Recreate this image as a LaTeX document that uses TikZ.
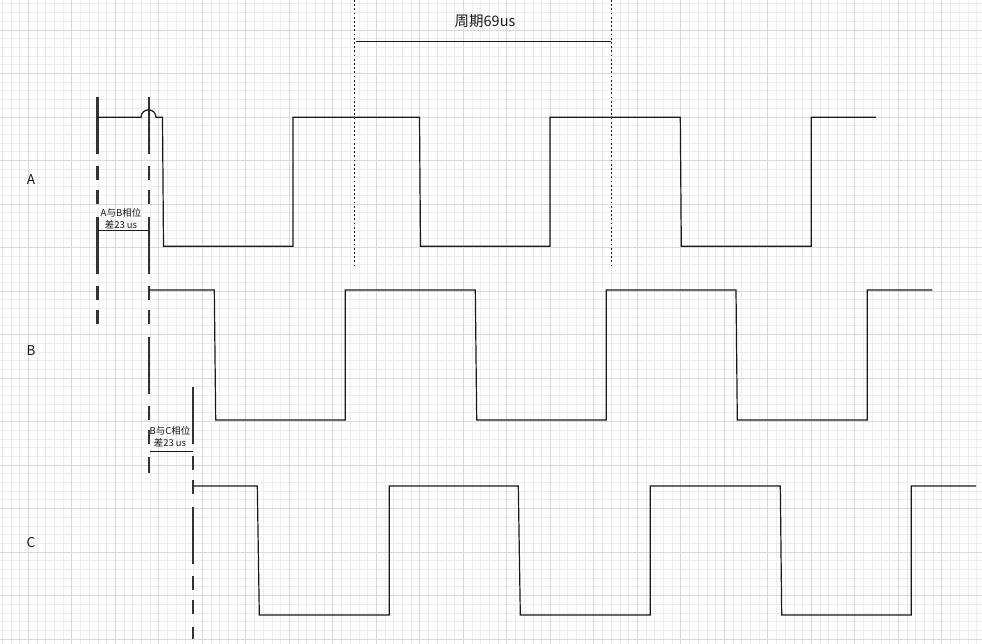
\documentclass[tikz,border=0pt]{standalone}
\usepackage{fontspec}
\setmainfont{Noto Sans CJK SC}
\begin{document}
\begin{tikzpicture}[x=1pt,y=-1pt,
  wave/.style={draw=black!90, line width=1.2pt, line join=miter},
  phasebar/.style={draw=black!80, line width=2.2pt, dash pattern=on 57pt off 12pt on 14pt off 10pt on 14pt off 13pt},
  dotline/.style={draw=black!90, line width=1.1pt, dash pattern=on 1.8pt off 2.4pt},
  thinline/.style={draw=black!90, line width=1pt},
  siglabel/.style={font=\fontsize{13.5}{15}\selectfont, text=black!90, inner sep=0pt},
  smalllabel/.style={font=\fontsize{9.5}{11.5}\selectfont, text=black!90, align=center, inner sep=0pt}]
\useasboundingbox (0,0) rectangle (982,644);
\fill[white] (0,0) rectangle (982,644);
% grid
\foreach \i in {0,...,112} { \draw[black!7, line width=0.8pt] ({2.2+8.7*\i},0) -- ({2.2+8.7*\i},644); }
\foreach \i in {0,...,73} { \draw[black!7, line width=0.8pt] (0,{3.9+8.7*\i}) -- (982,{3.9+8.7*\i}); }
\foreach \i in {0,...,22} { \draw[black!15, line width=0.8pt] ({28.3+43.5*\i},0) -- ({28.3+43.5*\i},644); }
\foreach \i in {0,...,14} { \draw[black!15, line width=0.8pt] (0,{30+43.5*\i}) -- (982,{30+43.5*\i}); }

% phase bars
\coordinate (b1t) at (97.5,96.7); \coordinate (b1b) at (97.5,323.5);
\coordinate (b2t) at (148.7,96.7); \coordinate (b2b) at (148.7,473);
\coordinate (b3t) at (193.3,386.7); \coordinate (b3b) at (193.3,639);
\draw[phasebar] (b1t) -- (b1b);
\draw[phasebar] (b2t) -- (b2b);
\draw[phasebar] (b3t) -- (b3b);

% waveform A
\draw[wave] (97.5,117.3) -- (141,117.3) arc[start angle=180, end angle=360, radius=7.5] -- (162.5,117.3)
  -- (163.5,246.3) -- (293,246.3) -- (293,117.3) -- (419.5,117.3) -- (420.5,246.3) -- (550,246.3)
  -- (550,117.3) -- (680.3,117.3) -- (681.3,246.3) -- (811.3,246.3) -- (811.3,117.3) -- (876,117.3);
% waveform B
\draw[wave] (148.7,290) -- (214.3,290) -- (215.7,420) -- (345.3,420) -- (345.3,290) -- (475.3,290)
  -- (476.7,420) -- (606.3,420) -- (606.3,290) -- (736,290) -- (737.3,420) -- (867.3,420)
  -- (867.3,290) -- (932.3,290);
% waveform C
\draw[wave] (193.3,486) -- (257.3,486) -- (259.3,615) -- (389.3,615) -- (389.3,486) -- (518.3,486)
  -- (520.3,615) -- (650.3,615) -- (650.3,486) -- (780.3,486) -- (781.7,615) -- (911.3,615)
  -- (911.3,486) -- (976,486);

% period marker
\coordinate (p1t) at (354.7,0); \coordinate (p1b) at (354.7,266);
\coordinate (p2t) at (611.7,0); \coordinate (p2b) at (611.7,267);
\draw[dotline] (p1t) -- (p1b);
\draw[dotline] (p2t) -- (p2b);
\coordinate (pl) at (355.5,41.3); \coordinate (pr) at (610.5,41.3);
\draw[thinline] (pl) -- (pr);
\node[font=\fontsize{14.5}{16}\selectfont, text=black!90, inner sep=0pt] (period) at (485,20.7) {周期69us};

% phase difference markers
\coordinate (ab1) at (97.5,230.7); \coordinate (ab2) at (148.7,230.7);
\draw[thinline] (ab1) -- (ab2);
\node[smalllabel] (ablabel) at (121,218.5) {A与B相位\\差23 us};
\coordinate (bc1) at (149.5,451.7); \coordinate (bc2) at (193.3,451.7);
\draw[thinline] (bc1) -- (bc2);
\node[smalllabel] (bclabel) at (170,436.5) {B与C相位\\差23 us};

% signal names
\node[siglabel] (la) at (31,180) {A};
\node[siglabel] (lb) at (31,351) {B};
\node[siglabel] (lc) at (31,543) {C};
\end{tikzpicture}
\end{document}
